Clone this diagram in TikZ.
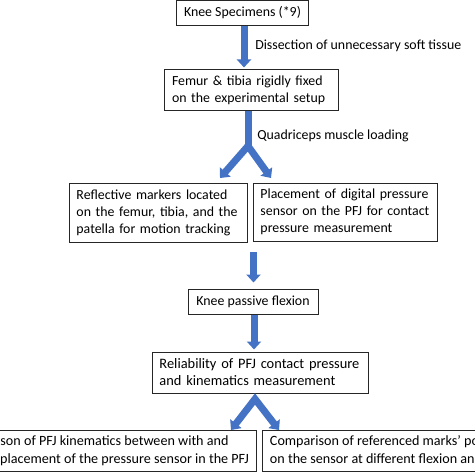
\documentclass[tikz,border=0pt]{standalone}
\usepackage{fontspec}
\setmainfont{Carlito}
\usepackage{xcolor}
\usetikzlibrary{arrows.meta}
\definecolor{flowblue}{RGB}{68,114,196}

\tikzset{
  stepbox/.style={draw=black!85, line width=0.75pt, fill=white, inner xsep=5.6pt, inner ysep=0pt, align=left, font=\fontsize{10.4}{12.7}\selectfont},
  steplabel/.style={anchor=west, inner sep=0.75pt, font=\fontsize{10.4}{12.7}\selectfont},
  flowline/.style={draw=flowblue, line width=5.25pt},
  flowarrow/.style={flowline, -{Triangle[width=10.5pt,length=6pt]}},
  flowfork/.style={flowline, line join=miter, {Triangle[width=10.5pt,length=6pt]}-{Triangle[width=10.5pt,length=6pt]}}
}

\begin{document}
\begin{tikzpicture}[x=0.75pt,y=0.75pt,yscale=-1]
\useasboundingbox (0,0) rectangle (474,474);

% Text Node
\node [stepbox, align=center, minimum width=98.25pt, minimum height=18.75pt] (knee) at (242.5,13) {Knee Specimens (*9)};
% Text Node
\node [stepbox, text width=119.25pt, minimum height=30.75pt] (femur) at (251.5,90.5) {Femur \& tibia rigidly fixed\\on the experimental setup};
% Text Node
\node [stepbox, text width=122.3pt, minimum height=44.25pt] (reflect) at (158,212.5) {Reflective markers located\\on the femur, tibia, and the\\patella for motion tracking};
% Text Node
\node [stepbox, text width=126.8pt, minimum height=43.5pt] (sensor) at (345,212) {Placement of digital pressure\\sensor on the PFJ for contact\\pressure measurement};
% Text Node
\node [stepbox, align=center, minimum width=97.5pt, minimum height=18.75pt] (flexion) at (253,301.5) {Knee passive flexion};
% Text Node
\node [stepbox, font=\fontsize{10.8}{12.75}\selectfont, text width=150.8pt, minimum height=30.75pt] (reliab) at (260,372.5) {Reliability of PFJ contact pressure\\and kinematics measurement};
% Text Node
\node [stepbox, font=\fontsize{10.6}{13.5}\selectfont, minimum height=30.75pt, anchor=east] (kinem) at (257,451) {Comparison of PFJ kinematics between with and\\without placement of the pressure sensor in the PFJ};
% Text Node
\node [stepbox, font=\fontsize{10.6}{13.5}\selectfont, minimum height=30.75pt, anchor=west] (marks) at (262,451) {Comparison of referenced marks’ position\\on the sensor at different flexion angles};

% Text Node
\node [steplabel] (dissect) at (254,46) {Dissection of unnecessary soft tissue};
% Text Node
\node [steplabel] (quad) at (256,136) {Quadriceps muscle loading};

%Straight Lines
\coordinate (s1) at (244,0);
\draw [flowarrow, shorten >=1.5pt] (knee.south -| s1) -- (femur.north -| s1);
%Straight Lines
\coordinate (fork1) at (248,146);
\coordinate (tipA) at (220,178);
\coordinate (tipB) at (271,178);
\draw [flowline] (femur.south -| fork1) -- (fork1);
\draw [flowfork] (tipA) -- (fork1) -- (tipB);
%Straight Lines
\coordinate (s3) at (253.5,252);
\draw [flowarrow, shorten >=4.5pt] (s3) -- (flexion.north -| s3);
%Straight Lines
\coordinate (s4) at (254,0);
\draw [flowarrow, shorten >=1.5pt] (flexion.south -| s4) -- (reliab.north -| s4);
%Straight Lines
\coordinate (fork2) at (255,399);
\coordinate (tipC) at (231,430);
\coordinate (tipD) at (279,430);
\draw [flowfork] (tipC) -- (fork2) -- (tipD);

\end{tikzpicture}
\end{document}
